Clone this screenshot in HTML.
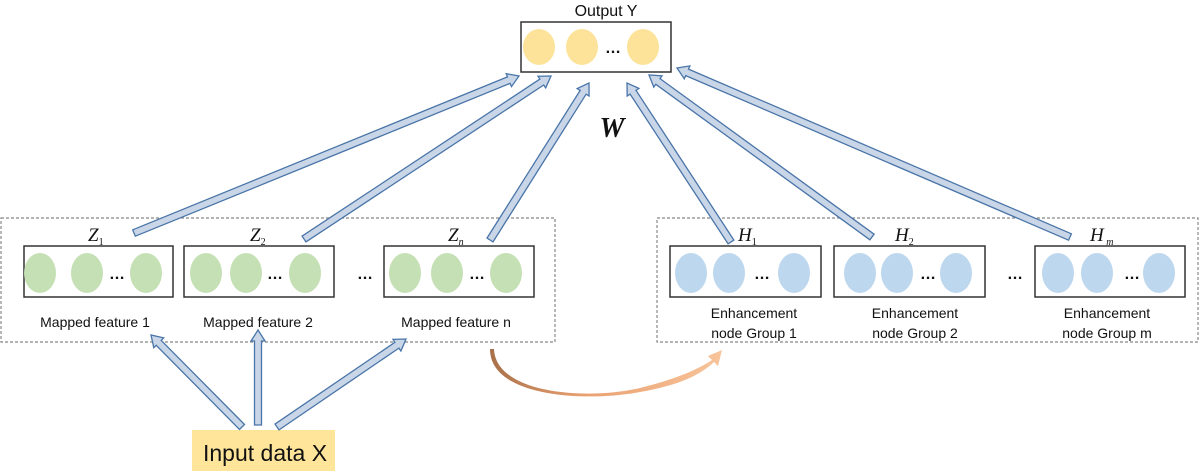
<!DOCTYPE html>
<html><head><meta charset="utf-8"><style>
html,body{margin:0;padding:0;background:#fff;}
svg{display:block;}
.t{font-family:"Liberation Sans",sans-serif;fill:#111;}
.s{font-family:"Liberation Serif",serif;font-style:italic;fill:#111;}
</style></head><body>
<svg id="s" width="1200" height="471" viewBox="0 0 1200 471" xmlns="http://www.w3.org/2000/svg">
<defs>
<linearGradient id="og" x1="0" y1="0" x2="1" y2="0">
<stop offset="0" stop-color="#a8704a"/><stop offset="0.4" stop-color="#e9a070"/><stop offset="1" stop-color="#f8c49a"/>
</linearGradient>
</defs>
<rect x="1" y="218" width="554" height="124" fill="none" stroke="#888" stroke-dasharray="3,2" stroke-width="1.2"/>
<rect x="657" y="218" width="541" height="124" fill="none" stroke="#888" stroke-dasharray="3,2" stroke-width="1.2"/>
<text x="606" y="16" class="t" font-size="16" text-anchor="middle">Output Y</text>
<rect x="521" y="22" width="150" height="50" fill="#fff" stroke="#333" stroke-width="1.5"/>
<g fill="#fde39a"><ellipse cx="539" cy="47" rx="16" ry="18"/><ellipse cx="582" cy="47" rx="16" ry="18"/><ellipse cx="643" cy="47" rx="16" ry="18"/></g>
<text x="613" y="53" class="t" font-size="16" font-weight="bold" text-anchor="middle">…</text>
<text x="612" y="137" font-family="Liberation Serif,serif" font-style="italic" font-weight="bold" font-size="28" text-anchor="middle" fill="#111">W</text>
<g stroke="#333" stroke-width="1.5" fill="#fff">
<rect x="24" y="246" width="149" height="51"/><rect x="184" y="246" width="150" height="51"/><rect x="384" y="246" width="150" height="51"/>
<rect x="670" y="246" width="151" height="51"/><rect x="834" y="246" width="151" height="51"/><rect x="1035" y="246" width="150" height="51"/>
</g>
<g fill="#c5e0b4">
<ellipse cx="40" cy="273" rx="16" ry="20"/><ellipse cx="87" cy="273" rx="16" ry="20"/><ellipse cx="146" cy="273" rx="16" ry="20"/>
<ellipse cx="206" cy="273" rx="16" ry="20"/><ellipse cx="246" cy="273" rx="16" ry="20"/><ellipse cx="305" cy="273" rx="16" ry="20"/>
<ellipse cx="405" cy="273" rx="16" ry="20"/><ellipse cx="447" cy="273" rx="16" ry="20"/><ellipse cx="506" cy="273" rx="16" ry="20"/>
</g>
<g fill="#bdd7ee">
<ellipse cx="691" cy="273" rx="16" ry="20"/><ellipse cx="729" cy="273" rx="16" ry="20"/><ellipse cx="794" cy="273" rx="16" ry="20"/>
<ellipse cx="860" cy="273" rx="16" ry="20"/><ellipse cx="897" cy="273" rx="16" ry="20"/><ellipse cx="956" cy="273" rx="16" ry="20"/>
<ellipse cx="1058" cy="273" rx="16" ry="20"/><ellipse cx="1097" cy="273" rx="16" ry="20"/><ellipse cx="1159" cy="273" rx="16" ry="20"/>
</g>
<g class="t" font-size="16" font-weight="bold" text-anchor="middle">
<text x="117" y="279">…</text><text x="275" y="279">…</text><text x="365" y="279">…</text><text x="477" y="279">…</text>
<text x="762" y="279">…</text><text x="928" y="279">…</text><text x="1015" y="279">…</text><text x="1132" y="279">…</text>
</g>
<g class="t" font-size="14" text-anchor="middle">
<text x="95" y="327">Mapped feature 1</text><text x="258" y="327">Mapped feature 2</text><text x="456" y="327">Mapped feature n</text>
<text x="754" y="318">Enhancement</text><text x="754" y="338">node Group 1</text>
<text x="915" y="318">Enhancement</text><text x="915" y="338">node Group 2</text>
<text x="1107" y="318">Enhancement</text><text x="1107" y="338">node Group m</text>
</g>
<g class="s" font-size="19">
<text x="88" y="241">Z<tspan font-size="10" dy="4" font-style="normal">1</tspan></text>
<text x="250" y="241">Z<tspan font-size="10" dy="4" font-style="normal">2</tspan></text>
<text x="448" y="241">Z<tspan font-size="10" dy="4">n</tspan></text>
<text x="738" y="241">H<tspan font-size="10" dy="4" font-style="normal">1</tspan></text>
<text x="895" y="241">H<tspan font-size="10" dy="4" font-style="normal">2</tspan></text>
<text x="1090" y="241">H<tspan font-size="10" dy="4"> m</tspan></text>
</g>
<rect x="192" y="430" width="143" height="41" fill="#fee599"/>
<text x="203" y="461" class="t" font-size="23">Input data X</text>
<path d="M494,349 C496,395 590,400 640,388 C680,378 700,368 712,360 L708,356 L722,350 L718,366 L714,362 C700,375 680,385 640,392 C588,402 490,398 490,349 Z" fill="url(#og)"/>
<g id="arr" fill="#c9d6e8" stroke="#4a75a8" stroke-width="1.3"></g>
</svg>
<script>
var A=[[134,233,519,76],[304,239,551,76],[490,240,589,83],[731,242,627,83],[872,237,649,75],[1070,237,677,68],
[242,427,151,335],[258,425,258,330],[277,427,406,339]];
var g=document.getElementById('arr'),h='';
A.forEach(function(a){var x1=a[0],y1=a[1],x2=a[2],y2=a[3],dx=x2-x1,dy=y2-y1,L=Math.hypot(dx,dy),ux=dx/L,uy=dy/L,px=-uy,py=ux,w=3.5,W=7,hl=11;
var bx=x2-ux*hl,by=y2-uy*hl;
var P=[[x1+px*w,y1+py*w],[bx+px*w,by+py*w],[bx+px*W,by+py*W],[x2,y2],[bx-px*W,by-py*W],[bx-px*w,by-py*w],[x1-px*w,y1-py*w]];
h+='<polygon points="'+P.map(function(p){return p[0].toFixed(1)+','+p[1].toFixed(1)}).join(' ')+'"/>';});
g.innerHTML=h;
</script>
</body></html>
